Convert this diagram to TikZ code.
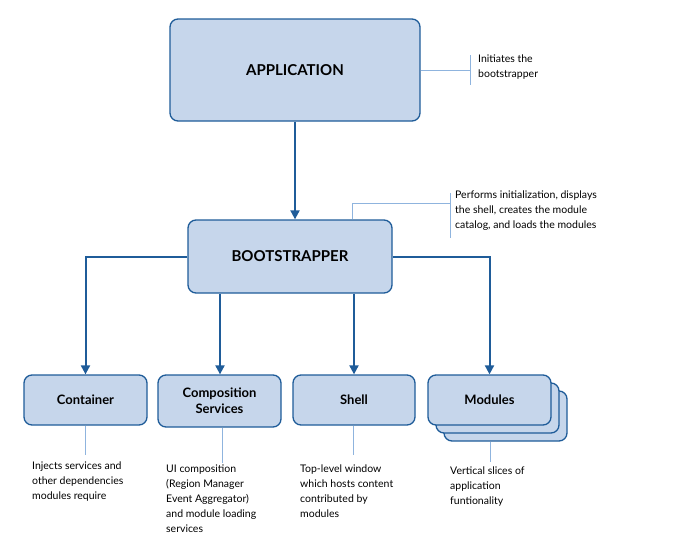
\documentclass[tikz,border=0pt]{standalone}
\usepackage{fontspec}
\setmainfont{Lato}
\usetikzlibrary{arrows.meta}
\definecolor{bfill}{HTML}{C6D6EB}
\definecolor{bdraw}{HTML}{1F5C99}
\definecolor{note}{HTML}{8FB4DE}
\begin{document}
\begin{tikzpicture}[x=1pt,y=-1pt,
 box/.style={draw=bdraw,fill=bfill,line width=1.3pt,rounded corners=8pt,font=\bfseries\fontsize{13}{16}\selectfont,align=center,inner sep=0pt},
 big/.style={font=\bfseries\fontsize{15}{18}\selectfont},
 arr/.style={draw=bdraw,line width=2pt,-{Triangle[length=9pt,width=9pt]}},
 nl/.style={draw=note,line width=1pt},
 txt/.style={font=\fontsize{10.5}{15}\selectfont,align=left,anchor=north west,inner sep=0pt}]
\useasboundingbox (0,0) rectangle (679,549);
\node[box,big,minimum width=250pt,minimum height=102pt] (app) at (295,70) {APPLICATION};
\node[box,big,minimum width=204pt,minimum height=73pt] (boot) at (290,256.5) {BOOTSTRAPPER};
\node[box,minimum width=123pt,minimum height=50pt] (cont) at (85.5,400) {Container};
\node[box,minimum width=123pt,minimum height=52pt] (comp) at (219.5,401) {Composition\\Services};
\node[box,minimum width=122pt,minimum height=50pt] (shell) at (354,400) {Shell};
\node[box,minimum width=123pt,minimum height=50pt] (m3) at (505.5,416) {};
\node[box,minimum width=123pt,minimum height=50pt] (m2) at (497.5,408) {};
\node[box,minimum width=123pt,minimum height=50pt] (mod) at (489.5,400) {Modules};
% arrows
\draw[arr] (app.south -| 295,0) -- (boot.north -| 295,0);
\draw[arr] (boot.west |- 0,257) -| (cont.north);
\draw[arr] (boot.south -| 220,0) -- (comp.north -| 220,0);
\draw[arr] (boot.south -| 354,0) -- (shell.north -| 354,0);
\draw[arr] (boot.east |- 0,257) -| (mod.north);
% notes
\coordinate (n1) at (470,70);
\draw[nl] (app.east |- n1) -- (n1);
\draw[nl] (470,55) -- (470,85);
\node[txt] (t1) at (478,55) {Initiates the\\bootstrapper};
\coordinate (n2) at (450,203);
\draw[nl] (boot.north -| 352,0) -- (352,203) -- (n2);
\draw[nl] (450,193) -- (450,238);
\node[txt] (t2) at (455,191) {Performs initialization, displays\\the shell, creates the module\\catalog, and loads the modules};
\coordinate (c1) at (85,455); \coordinate (c2) at (222,463);
\coordinate (c3) at (353,455); \coordinate (c4) at (490,462);
\draw[nl] (cont.south -| c1) -- (c1);
\draw[nl] (comp.south -| c2) -- (c2);
\draw[nl] (shell.south -| c3) -- (c3);
\draw[nl] (m3.south -| c4) -- (c4);
\node[txt] (t3) at (32,462) {Injects services and\\other dependencies\\modules require};
\node[txt] (t4) at (166,465) {UI composition\\(Region Manager\\Event Aggregator)\\and module loading\\services};
\node[txt] (t5) at (300,465) {Top-level window\\which hosts content\\contributed by\\modules};
\node[txt] (t6) at (450,467) {Vertical slices of\\application\\funtionality};
\end{tikzpicture}
\end{document}
